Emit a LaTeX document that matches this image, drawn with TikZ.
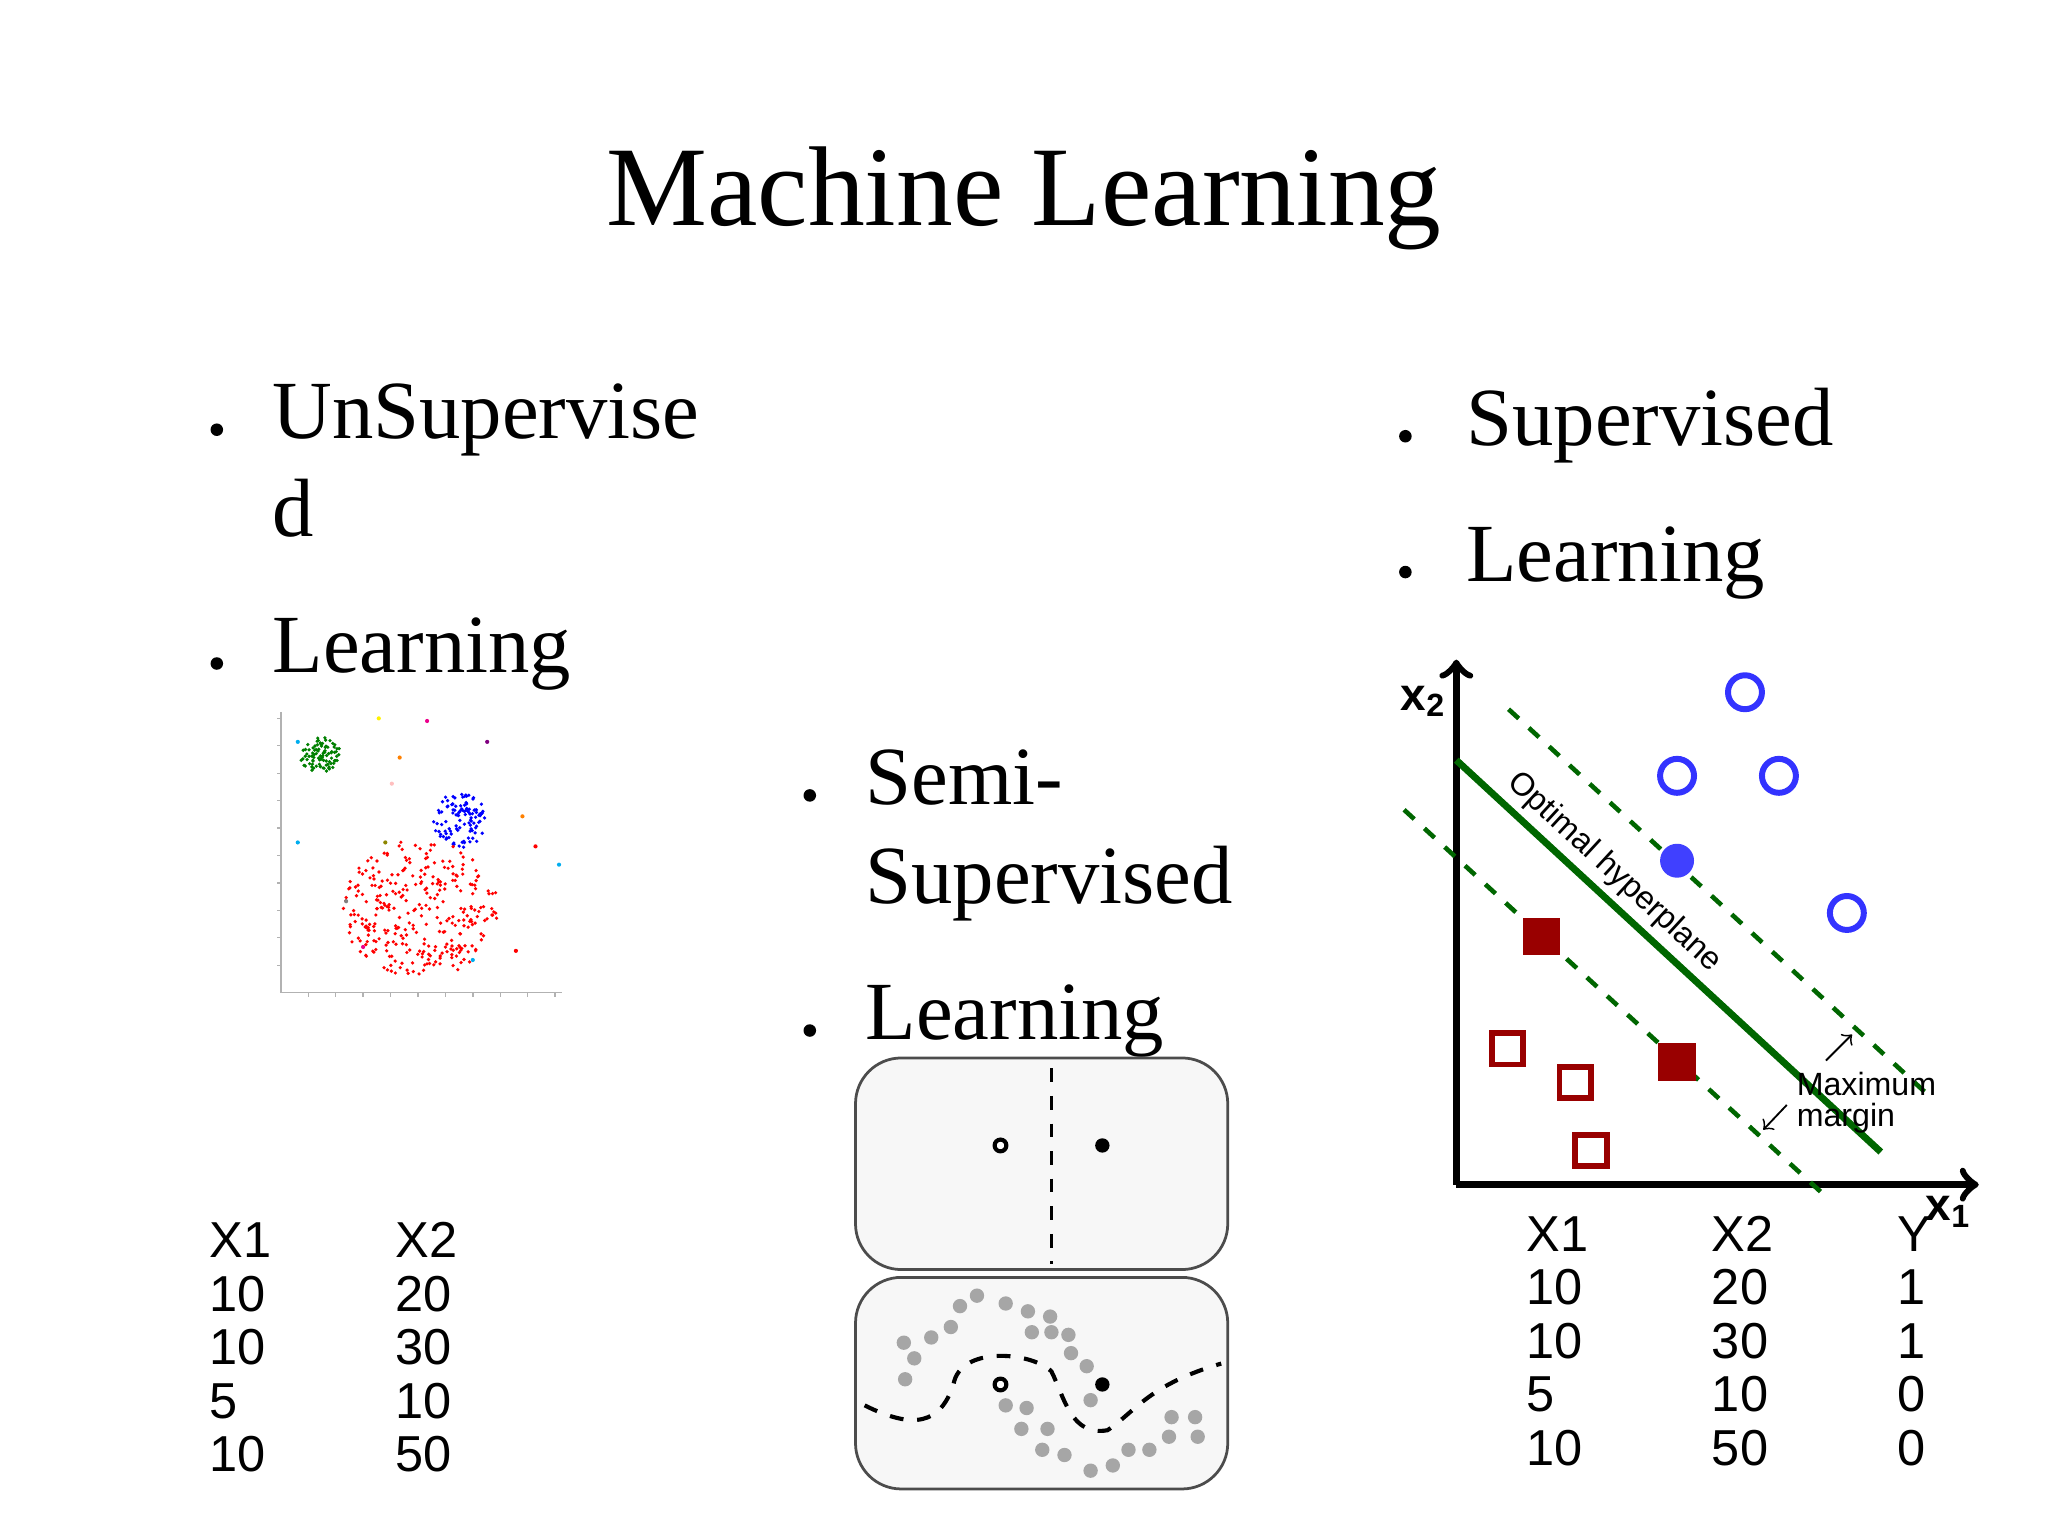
\documentclass[tikz,border=0pt]{standalone}
\usepackage{fontspec}
\setmainfont{Liberation Serif}
\newfontfamily\sansf{Liberation Sans}
\begin{document}
\begin{tikzpicture}[x=0.01cm,y=-0.01cm,
  bul/.style={anchor=base west,font=\fontsize{18}{22}\selectfont,inner sep=0},
  tab/.style={anchor=base west,font=\sansf\fontsize{11}{14}\selectfont,inner sep=0},
  blu/.style={draw=blue!80,line width=1.3pt},
  redsq/.style={draw=red!60!black,line width=1.3pt,minimum size=0.24cm,inner sep=0},
  box/.style={draw=black!70,rounded corners=0.35cm,fill=gray!6,line width=0.6pt}]
\useasboundingbox (0,0) rectangle (1568,1176);
\node (title) at (784,152) {\fontsize{24.7}{30}\selectfont Machine Learning};
% bullets
\foreach \x/\y/\t/\n in {208/336/{UnSupervise}/u1,208/411/{d}/u2,208/515/{Learning}/u3,
  662/616/{Semi-}/s1,662/692/{Supervised}/s2,662/796/{Learning}/s3,
  1122/341/{Supervised}/v1,1122/445/{Learning}/v2}{
  \node[bul] (\n) at (\x,\y) {\t};}
\foreach \x/\y in {160/336,160/515,614/616,614/796,1070/341,1070/445}{
  \fill (\x+6,\y-7) circle (4.8);}
% tables
\foreach \x/\y/\t in {160/963/X1,160/1004/10,160/1045/10,160/1086/5,160/1127/10,
  302/963/X2,302/1004/20,302/1045/30,302/1086/10,302/1127/50,
  1168/958/X1,1168/999/10,1168/1040/10,1168/1081/5,1168/1122/10,
  1310/958/X2,1310/999/20,1310/1040/30,1310/1081/10,1310/1122/50,
  1452/958/Y,1452/999/1,1452/1040/1,1452/1081/0,1452/1122/0}{
  \node[tab] at (\x,\y) {\t};}
% scatter
\draw[gray!60,line width=0.3pt] (215,545) -- (215,760) -- (430,760);
\foreach \i in {1,...,10}{\draw[gray!60,line width=0.3pt] (215+21*\i,760) -- (215+21*\i,763);
  \draw[gray!60,line width=0.3pt] (215,760-21*\i) -- (212,760-21*\i);}
\pgfmathsetseed{7}
\foreach \i in {1,...,90}{\pgfmathsetmacro\r{16*sqrt(rnd)}\pgfmathsetmacro\a{360*rnd}
  \fill[green!50!black] ({245+\r*cos(\a)},{578+0.85*\r*sin(\a)}) circle (1.4);}
\foreach \i in {1,...,110}{\pgfmathsetmacro\r{21*sqrt(rnd)}\pgfmathsetmacro\a{360*rnd}
  \fill[blue] ({352+\r*cos(\a)},{628+\r*sin(\a)}) circle (1.4);}
\foreach \i in {1,...,320}{\pgfmathsetmacro\r{54*sqrt(rnd)}\pgfmathsetmacro\a{360*rnd}
  \fill[red] ({322+1.1*\r*cos(\a)},{697+\r*sin(\a)}) circle (1.4);}
\foreach \x/\y/\c in {290/550/yellow,327/552/magenta,373/568/violet,306/580/orange,
  228/645/cyan,410/648/red,428/662/cyan,265/690/gray,395/728/red,362/735/cyan,
  278/725/magenta,295/645/olive,300/600/pink,228/568/cyan,400/625/orange}{
  \fill[\c] (\x,\y) circle (1.6);}
% semi-supervised
\draw[box] (655,810) rectangle (940,972);
\draw[box] (655,978) rectangle (940,1140);
\draw[dashed,line width=0.8pt] (805,818) -- (805,968);
\draw[line width=0.9pt,fill=white] (766,877) circle (4.5);
\fill (844,877) circle (5.5);
\foreach \x/\y in {692/1028,700/1040,693/1056,713/1024,728/1016,735/1000,748/992,770/998,
  787/1004,804/1008,790/1020,805/1020,818/1022,820/1036,832/1046,835/1072,770/1076,786/1078,
  782/1094,802/1094,798/1110,815/1114,835/1126,852/1122,864/1110,880/1110,895/1100,897/1085,
  915/1085,917/1100}{
  \fill[gray!70] (\x,\y) circle (5.5);}
\draw[dashed,line width=0.9pt] (662,1076) .. controls (700,1095) and (720,1090) .. (730,1060)
  .. controls (735,1030) and (790,1035) .. (805,1050) .. controls (815,1070) and (820,1100) .. (848,1095)
  .. controls (870,1080) and (880,1060) .. (935,1044);
\draw[line width=0.9pt,fill=white] (766,1060) circle (4.5);
\fill (844,1060) circle (5.5);
% SVM
\coordinate (o) at (1115,907);
\draw[line width=1.6pt,->] (o) -- (1115,505);
\draw[line width=1.6pt,->] (o) -- (1515,907);
\node[font=\sansf\bfseries\fontsize{10}{12}\selectfont] at (1090,537) {x\textsubscript{2}};
\node[font=\sansf\bfseries\fontsize{10}{12}\selectfont] at (1492,928) {x\textsubscript{1}};
\draw[green!40!black,line width=1.5pt] (1115,582) -- (1440,882);
\draw[green!40!black,dashed,line width=1pt] (1155,543) -- (1478,840);
\draw[green!40!black,dashed,line width=1pt] (1075,620) -- (1400,918);
\node[rotate=-42.7,font=\sansf\fontsize{7}{9}\selectfont] at (1236,668) {Optimal hyperplane};
\foreach \x/\y in {1336/530,1284/594,1362/594,1414/699}{\draw[blu] (\x,\y) circle (13);}
\fill[blue!75] (1284,659) circle (13);
\foreach \x/\y in {1180/717,1284/813}{\node[redsq,fill=red!60!black] at (\x,\y) {};}
\node[redsq] at (1154,803) {};\node[redsq] at (1206,829) {};\node[redsq] at (1218,881) {};
\node[anchor=west,font=\sansf\fontsize{7}{9}\selectfont,inner sep=0] at (1375,830) {Maximum};
\node[anchor=west,font=\sansf\fontsize{7}{9}\selectfont,inner sep=0] at (1375,856) {margin};
\draw[->] (1398,812) -- (1418,792);
\draw[->] (1368,846) -- (1350,865);
\end{tikzpicture}
\end{document}
